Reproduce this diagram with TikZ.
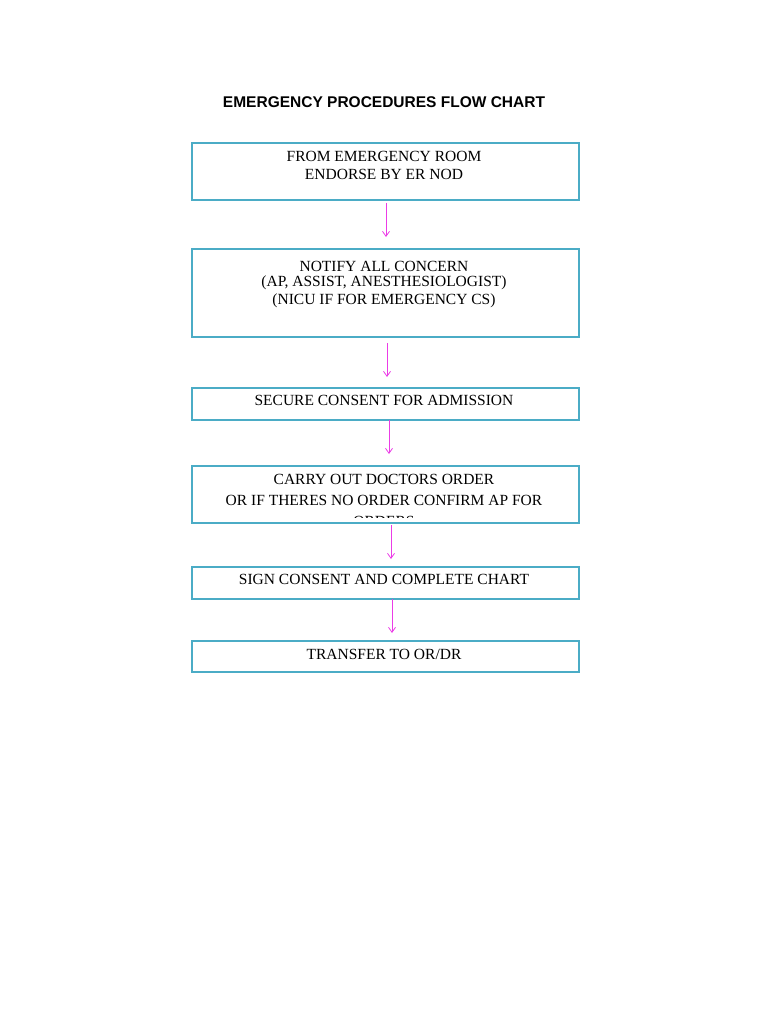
\documentclass[tikz,border=0pt]{standalone}
\usepackage{fontspec}
\setmainfont{Liberation Serif}
\newfontfamily\titlefont{Liberation Sans}
\usetikzlibrary{arrows.meta}
\definecolor{boxc}{RGB}{75,172,198}
\definecolor{arrc}{RGB}{235,60,230}
\begin{document}
\begin{tikzpicture}[x=1pt,y=-1pt,
  box/.style={draw=boxc,line width=2pt,inner sep=0pt,anchor=north west},
  txt/.style={font=\fontsize{15.5}{18}\selectfont,align=center,inner sep=0pt},
  arr/.style={draw=arrc,line width=0.8pt,-{Straight Barb[length=5pt,width=7pt]}}]
\useasboundingbox (0,0) rectangle (768,1024);
\node[font=\titlefont\bfseries\fontsize{15.5}{18}\selectfont] (title) at (384,102) {EMERGENCY PROCEDURES FLOW CHART};
\node[box,minimum width=387pt,minimum height=57pt] (b1) at (191,142) {};
\node[box,minimum width=387pt,minimum height=88pt] (b2) at (191,248) {};
\node[box,minimum width=387pt,minimum height=32pt] (b3) at (191,387) {};
\node[box,minimum width=387pt,minimum height=57pt] (b4) at (191,465) {};
\node[box,minimum width=387pt,minimum height=32pt] (b5) at (191,566) {};
\node[box,minimum width=387pt,minimum height=31pt] (b6) at (191,640) {};
\node[txt] (t1a) at (384,156) {FROM EMERGENCY ROOM};
\node[txt] (t1b) at (384,174) {ENDORSE BY ER NOD};
\node[txt] (t2a) at (384,266) {NOTIFY ALL CONCERN};
\node[txt] (t2b) at (384,283) {(AP, ASSIST, ANESTHESIOLOGIST)};
\node[txt] (t2c) at (384,301) {(NICU IF FOR EMERGENCY CS)};
\node[txt] (t3) at (384,400) {SECURE CONSENT FOR ADMISSION};
\node[txt] (t4a) at (384,479) {CARRY OUT DOCTORS ORDER};
\node[txt] (t4b) at (384,500) {OR IF THERES NO ORDER CONFIRM AP FOR};
\begin{scope}
\clip (192,466) rectangle (577,517);
\node[txt] (t4c) at (384,521) {ORDERS};
\end{scope}
\node[txt] (t5) at (384,579) {SIGN CONSENT AND COMPLETE CHART};
\node[txt] (t6) at (384,654) {TRANSFER TO OR/DR};
\coordinate (a1s) at (386,203); \coordinate (a1e) at (386,237);
\coordinate (a2s) at (387,343); \coordinate (a2e) at (387,377);
\coordinate (a3s) at (389,420); \coordinate (a3e) at (389,454);
\coordinate (a4s) at (391,525); \coordinate (a4e) at (391,559);
\coordinate (a5s) at (392,599); \coordinate (a5e) at (392,633);
\draw[arr] (a1s) -- (a1e);
\draw[arr] (a2s) -- (a2e);
\draw[arr] (a3s) -- (a3e);
\draw[arr] (a4s) -- (a4e);
\draw[arr] (a5s) -- (a5e);
\end{tikzpicture}
\end{document}
